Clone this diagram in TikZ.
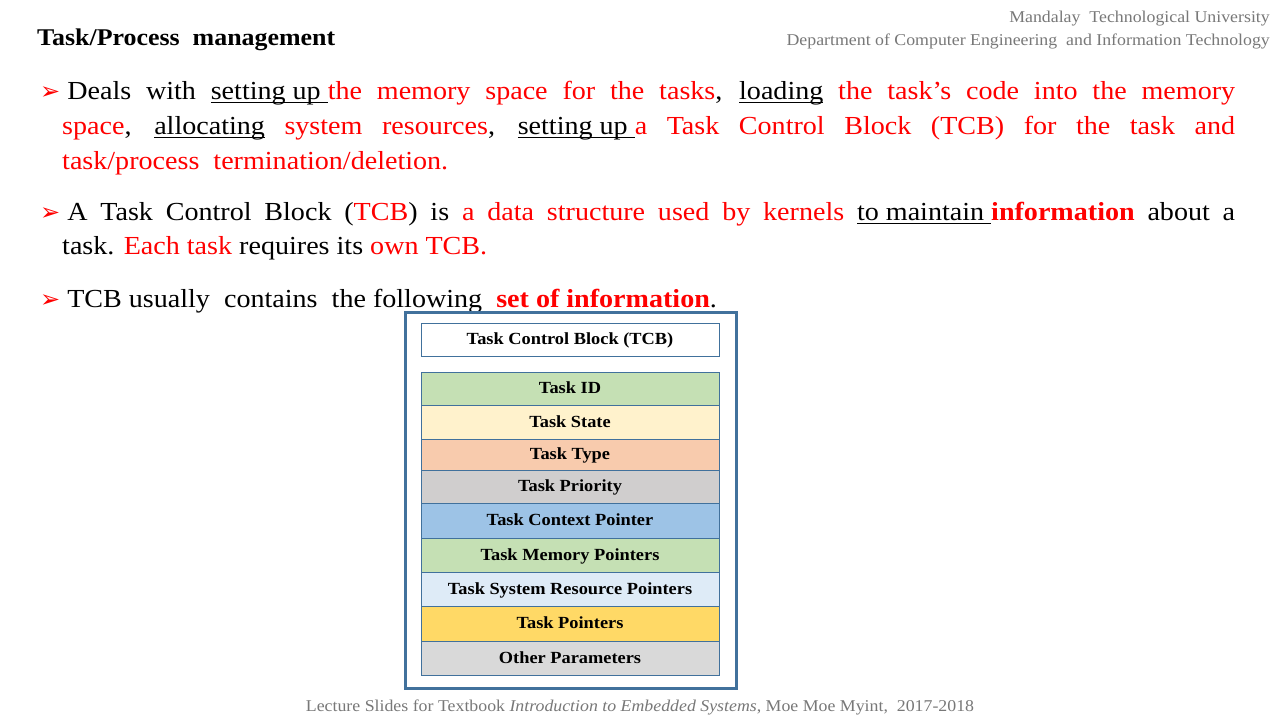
\documentclass[tikz,border=0pt]{standalone}
\usepackage{fontspec}
\setmainfont[FakeStretch=1.08]{Liberation Serif}
\newfontfamily\djvfont{DejaVu Sans}
\usepackage{xcolor}
\definecolor{rd}{RGB}{255,0,0}
\definecolor{frm}{RGB}{65,113,156}
\definecolor{gy}{RGB}{120,120,120}
\definecolor{cA}{HTML}{C5E0B4}
\definecolor{cB}{HTML}{FFF2CC}
\definecolor{cC}{HTML}{F8CBAD}
\definecolor{cD}{HTML}{D0CECE}
\definecolor{cE}{HTML}{9DC3E6}
\definecolor{cF}{HTML}{DEEBF7}
\definecolor{cG}{HTML}{FFD966}
\definecolor{cH}{HTML}{D9D9D9}
\newcommand{\bul}{{\color{rd}\djvfont\fontsize{24}{26}\selectfont ➢}\hspace{7pt}}
\newcommand{\R}[1]{\textcolor{rd}{#1}}
\newcommand{\U}[1]{\setbox0\hbox{#1}\rlap{\vrule height -3pt depth 4.3pt width \wd0\relax}\box0\relax}
\begin{document}
\begin{tikzpicture}[x=1pt,y=-1pt,
  line/.style={anchor=base west,inner sep=0pt,font=\fontsize{26}{30}\selectfont},
  row/.style={draw=frm,line width=0.8pt,minimum width=298pt,minimum height=#1,inner sep=0pt,text height=12pt,text depth=2pt,font=\bfseries\fontsize{17}{20}\selectfont},
  row/.default=34pt,
  small/.style={text=gy,inner sep=0pt,font=\fontsize{16.5}{20}\selectfont}]
\useasboundingbox[fill=white] (0,0) rectangle (1280,720);
\node[small,anchor=base east] (h1) at (1270,22) {Mandalay\ \ Technological University};
\node[small,anchor=base east] (h2) at (1270,45) {Department of Computer Engineering\ \ and Information Technology};
\node[anchor=base west,inner sep=0pt,font=\bfseries\fontsize{24}{30}\selectfont] (title) at (37,45) {Task/Process\ \ management};
\node[line] (l1) at (40,99) {\makebox[1195pt][s]{\bul Deals with \U{setting up\ }\R{the memory space for the tasks}, \U{loading} \R{the task’s code into the memory}}};
\node[line] (l2) at (62,134) {\makebox[1173pt][s]{\R{space}, \U{allocating} \R{system resources}, \U{setting up\ }\R{a Task Control Block (TCB) for the task and}}};
\node[line] (l3) at (62,169) {\R{task/process\ \ termination/deletion.}};
\node[line] (l4) at (40,220) {\makebox[1195pt][s]{\bul A Task Control Block (\R{TCB}) is \R{a data structure used by kernels} \U{to maintain\ }\R{\bfseries information} about a}};
\node[line] (l5) at (62,254) {task. \R{Each task} requires its \R{own TCB.}};
\node[line] (l6) at (40,307) {\bul TCB usually\ \ contains\ \ the following\ \ \R{\bfseries set of information}.};
\draw[frm,line width=3pt] (405,312) rectangle (736,688);
\node[row=33pt,fill=white] (hd) at (570,339.5) {Task Control Block (TCB)};
\node[row=33pt,fill=cA] (r1) at (570,388.5) {Task ID};
\node[row=34pt,fill=cB] (r2) at (570,422) {Task State};
\node[row=31pt,fill=cC] (r3) at (570,454.5) {Task Type};
\node[row=33pt,fill=cD] (r4) at (570,486.5) {Task Priority};
\node[row=35pt,fill=cE] (r5) at (570,520.5) {Task Context Pointer};
\node[row=34pt,fill=cA] (r6) at (570,555) {Task Memory Pointers};
\node[row=34pt,fill=cF] (r7) at (570,589) {Task System Resource Pointers};
\node[row=35pt,fill=cG] (r8) at (570,623.5) {Task Pointers};
\node[row=34pt,fill=cH] (r9) at (570,658) {Other Parameters};
\node[small,anchor=base] (ft) at (640,711) {Lecture Slides for Textbook \textit{Introduction to Embedded Systems}, Moe Moe Myint,\ \ 2017-2018};
\end{tikzpicture}
\end{document}
